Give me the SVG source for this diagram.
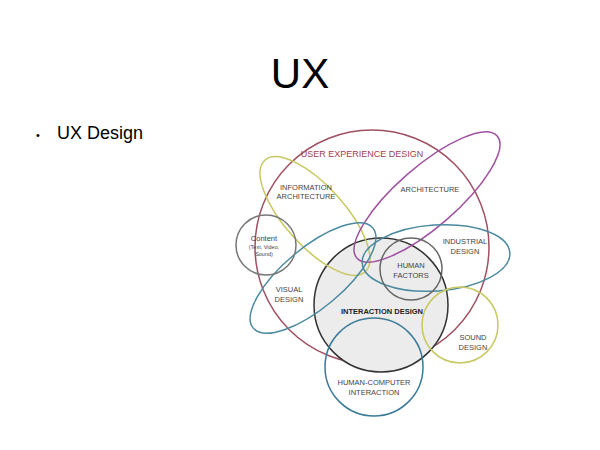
<svg xmlns="http://www.w3.org/2000/svg" width="600" height="450" viewBox="0 0 600 450">
<style>
.l{font-family:"Liberation Sans",Arial,sans-serif;font-size:7.5px;fill:#444;text-anchor:middle}
.s{fill:none;stroke-width:1.5}
</style>
<rect width="600" height="450" fill="#fff"/>
<text x="300" y="88" font-family="Liberation Sans,Arial,sans-serif" font-size="42" text-anchor="middle" fill="#000">UX</text>
<text x="36" y="139" font-family="Liberation Sans,Arial,sans-serif" font-size="11" fill="#000">•</text>
<text x="57" y="139" font-family="Liberation Sans,Arial,sans-serif" font-size="18" fill="#000">UX Design</text>
<g id="ux"><circle class="s" cx="372" cy="247" r="117" stroke="#a05060"/><text class="l" x="362" y="157" style="fill:#a04050;font-size:9px">USER EXPERIENCE DESIGN</text></g>
<g id="ixd"><circle cx="381" cy="305" r="67" fill="#ececec" stroke="#333" stroke-width="1.5"/><text class="l" x="382" y="314" style="fill:#222;font-weight:bold">INTERACTION DESIGN</text></g>
<g id="ia"><ellipse class="s" cx="315" cy="216" rx="75" ry="30" transform="rotate(48 315 216)" stroke="#c8c860"/><text class="l" x="306" y="190">INFORMATION</text><text class="l" x="306" y="199">ARCHITECTURE</text></g>
<g id="arch"><ellipse class="s" cx="427" cy="197" rx="93" ry="30" transform="rotate(-41 427 197)" stroke="#a050a0"/><text class="l" x="430" y="192">ARCHITECTURE</text></g>
<g id="ind"><ellipse class="s" cx="436" cy="258" rx="74" ry="33" transform="rotate(-4 436 258)" stroke="#4a8aa0"/><text class="l" x="465" y="244">INDUSTRIAL</text><text class="l" x="465" y="254">DESIGN</text></g>
<g id="vis"><ellipse class="s" cx="313" cy="278" rx="78" ry="30" transform="rotate(-40 313 278)" stroke="#4a8aa0"/><text class="l" x="289" y="292">VISUAL</text><text class="l" x="289" y="302">DESIGN</text></g>
<g id="content"><circle class="s" cx="266" cy="245" r="30" stroke="#777"/><text class="l" x="264" y="241">Content</text><text class="l" x="264" y="249" style="font-size:5.5px">(Text, Video,</text><text class="l" x="264" y="256" style="font-size:5.5px">Sound)</text></g>
<g id="hf"><circle class="s" cx="411" cy="269" r="31" stroke="#666"/><text class="l" x="411" y="268">HUMAN</text><text class="l" x="411" y="278">FACTORS</text></g>
<g id="sound"><circle class="s" cx="460" cy="325" r="38" stroke="#c8c860"/><text class="l" x="473" y="340">SOUND</text><text class="l" x="473" y="350">DESIGN</text></g>
<g id="hci"><circle class="s" cx="374" cy="367" r="49" stroke="#3a7a9a"/><text class="l" x="374" y="385">HUMAN-COMPUTER</text><text class="l" x="374" y="395">INTERACTION</text></g>
<g id="connectors"/>
</svg>
